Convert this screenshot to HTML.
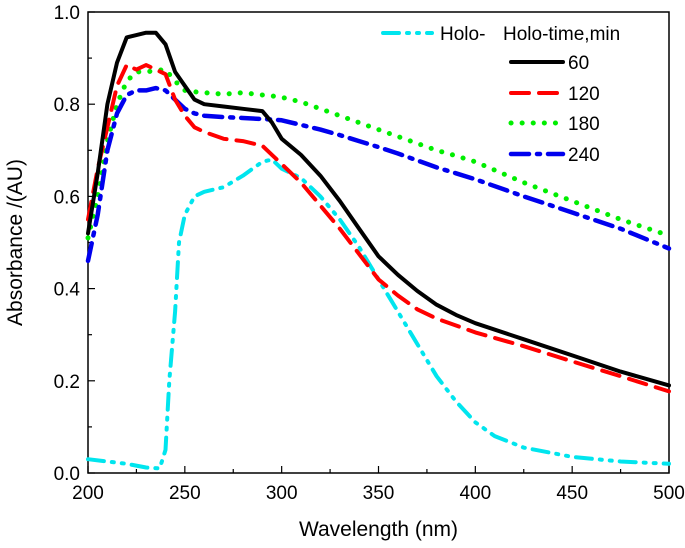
<!DOCTYPE html>
<html><head><meta charset="utf-8"><style>
html,body{margin:0;padding:0;background:#fff;}
svg{display:block;font-family:"Liberation Sans",sans-serif;}
</style></head><body>
<svg id="chart" width="685" height="548" viewBox="0 0 685 548">
<g id="axes"></g>
<g id="series"></g>
<g id="legend"></g>
</svg>
<script>
const wavelengths = [200,205,210,215,220,225,230,235,240,245,250,255,260,270,280,290,295,300,310,320,330,340,350,360,370,380,390,400,425,450,475,500];
const s60  = [0.52,0.65,0.80,0.89,0.945,0.95,0.955,0.955,0.93,0.87,0.84,0.81,0.80,0.795,0.79,0.785,0.76,0.725,0.69,0.645,0.59,0.53,0.47,0.43,0.395,0.365,0.343,0.325,0.29,0.255,0.22,0.19];
const s120 = [0.55,0.66,0.75,0.84,0.885,0.875,0.885,0.875,0.865,0.81,0.775,0.75,0.74,0.725,0.72,0.71,0.69,0.67,0.63,0.58,0.53,0.475,0.42,0.385,0.355,0.335,0.32,0.305,0.275,0.242,0.21,0.177];
const s180 = [0.51,0.60,0.72,0.80,0.85,0.87,0.87,0.873,0.875,0.85,0.83,0.827,0.825,0.822,0.825,0.82,0.818,0.815,0.805,0.79,0.775,0.76,0.745,0.73,0.715,0.70,0.688,0.675,0.63,0.59,0.55,0.515];
const s240 = [0.46,0.56,0.70,0.78,0.82,0.83,0.83,0.835,0.83,0.81,0.79,0.78,0.775,0.772,0.77,0.768,0.767,0.765,0.755,0.745,0.733,0.72,0.707,0.693,0.678,0.663,0.65,0.637,0.60,0.565,0.53,0.487];
const holoX = [200,210,220,230,237,240,242,245,247,250,255,260,270,280,290,295,300,310,320,330,340,350,360,370,380,390,400,410,425,450,475,500];
const holoY = [0.03,0.025,0.02,0.012,0.01,0.05,0.2,0.35,0.5,0.56,0.6,0.61,0.62,0.645,0.675,0.68,0.66,0.64,0.6,0.55,0.49,0.42,0.35,0.28,0.21,0.155,0.11,0.08,0.055,0.035,0.025,0.02];
const xTicks = [200,250,300,350,400,450,500];
const yTicks = [0.0,0.2,0.4,0.6,0.8,1.0];
const legendLabels = ["60","120","180","240"];

const NS="http://www.w3.org/2000/svg";
const L=88,R=669,T=12,B=473;
const xs=v=>L+(v-200)/300*(R-L);
const ys=v=>B-v*(B-T);
function mk(tag,attrs,parent){const e=document.createElementNS(NS,tag);for(const k in attrs)e.setAttribute(k,attrs[k]);parent.appendChild(e);return e;}
const axes=document.getElementById('axes'),ser=document.getElementById('series'),leg=document.getElementById('legend');

const frame=mk('rect',{x:L,y:T,width:R-L,height:B-T,fill:'none',stroke:'#000','stroke-width':1.5},axes);


for(let v=200;v<=500;v+=25){const maj=(v%50===0);
 const t=mk('line',{x1:xs(v),x2:xs(v),y1:B,y2:B-(maj?7:4),stroke:'#000','stroke-width':1.2},axes);
 
 }
xTicks.forEach(v=>{const t=mk('text',{x:xs(v),y:B+26,'text-anchor':'middle','font-size':19},axes);t.textContent=v;
 
 });
for(let i=0;i<=10;i++){const v=i/10;const maj=(i%2===0);
 const t=mk('line',{x1:L,x2:L+(maj?7:4),y1:ys(v),y2:ys(v),stroke:'#000','stroke-width':1.2},axes);
 
 }
yTicks.forEach(v=>{const t=mk('text',{x:L-8,y:ys(v)+7,'text-anchor':'end','font-size':19},axes);t.textContent=v.toFixed(1);
 
 });
const xt=mk('text',{x:(L+R)/2,y:536,'text-anchor':'middle','font-size':21},axes);xt.textContent='Wavelength (nm)';


const yt=mk('text',{x:0,y:0,'text-anchor':'middle','font-size':21,transform:`translate(22,${(T+B)/2}) rotate(-90)`},axes);yt.textContent='Absorbance /(AU)';



const styles=[
 {c:'#00e5ee',d:'16 8 2 8 2 8',w:4,name:'holo-line'},
 {c:'#000',d:'',w:4,name:'series-60-line'},
 {c:'#ff0000',d:'18 10',w:4,name:'series-120-line'},
 {c:'#00ee00',d:'0.1 11',w:5,name:'series-180-line'},
 {c:'#0000ee',d:'18 8 3 8',w:4.5,name:'series-240-line'}];
function line(xv,yv,st){
 const d=xv.map((x,i)=>(i?'L':'M')+xs(x).toFixed(1)+','+ys(yv[i]).toFixed(1)).join(' ');
 const p=mk('path',{d:d,fill:'none',stroke:st.c,'stroke-width':st.w,'stroke-dasharray':st.d,'stroke-linecap':'round','stroke-linejoin':'round'},ser);
 
 }
line(holoX,holoY,styles[0]);
line(wavelengths,s180,styles[3]);
line(wavelengths,s240,styles[4]);
line(wavelengths,s120,styles[2]);
line(wavelengths,s60,styles[1]);

const h=mk('line',{x1:383,x2:432,y1:33,y2:33,stroke:styles[0].c,'stroke-width':4,'stroke-dasharray':styles[0].d,'stroke-linecap':'round'},leg);


const ht=mk('text',{x:440,y:40,'font-size':19},leg);ht.textContent='Holo-';


const tt=mk('text',{x:503,y:40,'font-size':19},leg);tt.textContent='Holo-time,min';


const ly=[62,93,123,154];
legendLabels.forEach((lab,i)=>{const st=styles[i+1];
 const s=mk('line',{x1:511,x2:563,y1:ly[i],y2:ly[i],stroke:st.c,'stroke-width':st.w,'stroke-dasharray':st.d,'stroke-linecap':'round'},leg);
 
 
 const t=mk('text',{x:568,y:ly[i]+7,'font-size':19},leg);t.textContent=lab;
 
 });
</script>
</body></html>
